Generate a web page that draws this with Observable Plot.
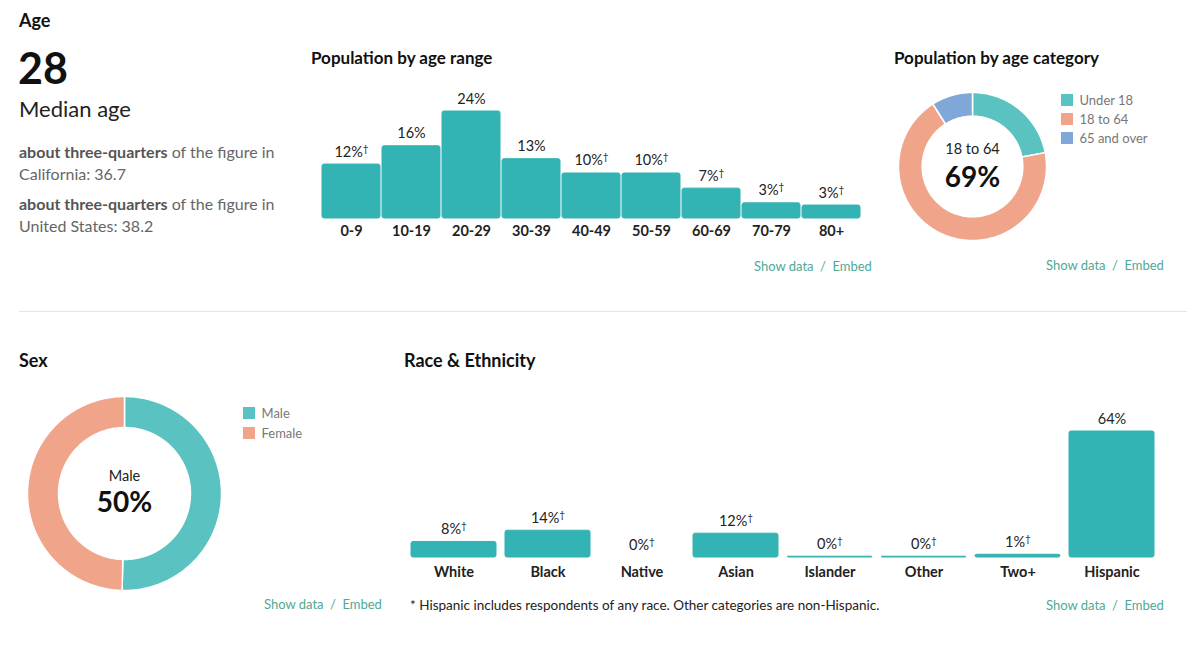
<!DOCTYPE html>
<html>
<head>
<meta charset="utf-8">
<script src="https://cdn.jsdelivr.net/npm/d3@7"></script>
<script src="https://cdn.jsdelivr.net/npm/@observablehq/plot@0.6"></script>
<style>
  html, body { margin: 0; padding: 0; background: #fff; }
  body { width: 1200px; height: 667px; position: relative; overflow: hidden; font-family: Lato, "Open Sans", sans-serif; color: #222; }
  .abs { position: absolute; white-space: nowrap; }
  .h2 { font-size: 18px; font-weight: 700; color: #111; line-height: 1.2; }
  .h3 { font-size: 17px; font-weight: 700; color: #111; line-height: 1.2; }
  .big { font-size: 43px; font-weight: 700; color: #111; line-height: 1.2; }
  .med { font-size: 22px; color: #222; line-height: 1.2; }
  .para { font-size: 16px; color: #666; line-height: 22px; }
  .para b { color: #555; font-weight: 700; }
  .link { font-size: 13px; color: #4ea995; line-height: 1.2; }
  .foot { font-size: 13.5px; color: #222; line-height: 1.2; }
  .divider { position: absolute; left: 19px; top: 311px; width: 1168px; height: 1px; background: #e6e6e0; }
  .lg { font-family: Lato, sans-serif !important; font-size: 13px !important; color: #777 !important; margin: 0 !important; }
  .lg-swatch { padding-bottom: 3px !important; }
  .lgs .lg-swatch { padding-bottom: 4px !important; }
</style>
</head>
<body>
<script>
// ---------- data ----------
const medianAge = 28;
const compareLines = [
  ["about three-quarters", " of the figure in", "California: 36.7"],
  ["about three-quarters", " of the figure in", "United States: 38.2"]
];
const ageRanges = ["0-9", "10-19", "20-29", "30-39", "40-49", "50-59", "60-69", "70-79", "80+"];
const ageValues = [12.1, 16.2, 24.0, 13.3, 10.1, 10.1, 6.7, 3.4, 2.9];
const ageFlags  = [true, false, false, false, true, true, true, true, true];

const ageCats   = ["Under 18", "18 to 64", "65 and over"];
const ageCatVals = [22, 69, 9];
const ageCatColors = ["#5ac3c2", "#f0a48a", "#7fa7d7"];

const sexCats = ["Male", "Female"];
const sexVals = [50.4, 49.6];
const sexColors = ["#5ac3c2", "#f0a48a"];

const raceCats = ["White", "Black", "Native", "Asian", "Islander", "Other", "Two+", "Hispanic"];
const raceValues = [7.9, 13.6, 0, 12.1, 0.4, 0.4, 1.4, 64];
const raceFlags = [true, true, true, true, true, true, true, false];

const barColor = "#33b3b3";
const linkText = "Show data\u2002/\u2002Embed";

// ---------- helpers ----------
const NS = "http://www.w3.org/2000/svg";
function place(el, left, top) {
  el.style.position = "absolute"; el.style.left = left + "px"; el.style.top = top + "px";
  document.body.appendChild(el); return el;
}
function div(cls, html, left, top) {
  const d = document.createElement("div");
  d.className = "abs " + cls; d.innerHTML = html;
  return place(d, left, top);
}
function daggerize(svg) {
  svg.querySelectorAll("text").forEach(t => {
    const s = t.textContent;
    if (s.endsWith("\u2020")) {
      t.textContent = s.slice(0, -1);
      const ts = document.createElementNS(NS, "tspan");
      ts.setAttribute("font-size", "10");
      ts.setAttribute("dy", "-5");
      ts.textContent = "\u2020";
      t.appendChild(ts);
    }
  });
}
const fmt = (v, f) => Math.round(v) + "%" + (f ? "\u2020" : "");

function donutPoints(cats, vals, inner) {
  const total = d3.sum(vals);
  const pts = [];
  let acc = 0;
  cats.forEach((c, i) => {
    const a0 = acc / total * 2 * Math.PI; acc += vals[i];
    const a1 = acc / total * 2 * Math.PI;
    const n = Math.max(2, Math.ceil((a1 - a0) / (Math.PI / 180)));
    const ring = [];
    for (let k = 0; k <= n; k++) { const a = a0 + (a1 - a0) * k / n; ring.push([Math.sin(a), Math.cos(a)]); }
    for (let k = n; k >= 0; k--) { const a = a0 + (a1 - a0) * k / n; ring.push([inner * Math.sin(a), inner * Math.cos(a)]); }
    ring.push(ring[0]);
    ring.forEach(([x, y]) => pts.push({cat: c, x, y}));
  });
  return pts;
}

function donut(cats, vals, colors, size, centerIdx, topDy, botDy) {
  const pts = donutPoints(cats, vals, 0.68);
  return Plot.plot({
    width: size, height: size,
    margin: 2,
    x: {domain: [-1, 1], axis: null},
    y: {domain: [-1, 1], axis: null},
    color: {domain: cats, range: colors},
    style: {fontFamily: "Lato, sans-serif", color: "#222", background: "transparent", overflow: "visible"},
    marks: [
      Plot.line(pts, {x: "x", y: "y", z: "cat", fill: "cat", stroke: "white", strokeWidth: 1.5, curve: "linear"}),
      Plot.text([cats[centerIdx]], {frameAnchor: "middle", dy: topDy, fontSize: 14.5, fill: "#222"}),
      Plot.text([Math.round(vals[centerIdx]) + "%"], {frameAnchor: "middle", dy: botDy, fontSize: 28, fontWeight: "bold", fill: "#111"})
    ]
  });
}

function legend(cats, colors) {
  return Plot.legend({
    color: {type: "ordinal", domain: cats, range: colors},
    legend: "swatches", columns: 1, swatchSize: 12, className: "lg",
    style: {fontFamily: "Lato, sans-serif", fontSize: "13px", color: "#777"}
  });
}

// ---------- text blocks ----------
div("h2", "Age", 19, 10);
div("big", String(medianAge), 18, 42);
div("med", "Median age", 19, 96);
compareLines.forEach((l, i) => {
  div("para", `<b>${l[0]}</b><span>${l[1]}</span><br><span>${l[2]}</span>`, 19, 141 + i * 52);
});
div("h3", "Population by age range", 311, 48);
div("h3", "Population by age category", 894, 48);
div("link", linkText, 754, 259);
div("link", linkText, 1046, 258);
const dv = document.createElement("div"); dv.className = "divider"; document.body.appendChild(dv);
div("h2", "Sex", 19, 350);
div("h2", "Race &amp; Ethnicity", 404, 350);
div("link", linkText, 264, 597);
div("foot", "* Hispanic includes respondents of any race. Other categories are non-Hispanic.", 410, 597);
div("link", linkText, 1046, 598);

// ---------- age range bars ----------
const ageData = ageRanges.map((r, i) => ({r, v: ageValues[i], label: fmt(ageValues[i], ageFlags[i])}));
const ageSvg = Plot.plot({
  width: 575, height: 165,
  marginLeft: 18, marginRight: 12, marginTop: 31, marginBottom: 27,
  x: {domain: ageRanges, paddingInner: 0.04, paddingOuter: 0, label: null},
  y: {domain: [0, 24], axis: null},
  style: {fontFamily: "Lato, sans-serif", fontSize: "14px", color: "#222", background: "transparent", overflow: "visible"},
  marks: [
    Plot.barY(ageData, {x: "r", y: "v", fill: barColor, stroke: barColor, strokeWidth: 1, rx: 2}),
    Plot.text(ageData, {x: "r", y: "v", text: "label", lineAnchor: "bottom", dy: -8, fontSize: 14.5, fill: "#222"}),
    Plot.axisX({tickSize: 0, tickPadding: 7, fontSize: 14.5, fontWeight: "bold", label: null})
  ]
});
daggerize(ageSvg);
place(ageSvg, 300, 80);

// ---------- age category donut ----------
place(donut(ageCats, ageCatVals, ageCatColors, 152, 1, -17, 12), 896, 90);
place(legend(ageCats, ageCatColors), 1061, 92);

// ---------- sex donut ----------
place(donut(sexCats, sexVals, sexColors, 198, 0, -17, 10), 25, 394);
const lg2 = place(legend(sexCats, sexColors), 243, 405);
lg2.classList.add("lgs");

// ---------- race bars ----------
const raceData = raceCats.map((c, i) => ({c, v: raceValues[i], label: fmt(raceValues[i], raceFlags[i])}));
const raceSvg = Plot.plot({
  width: 770, height: 185,
  marginLeft: 10, marginRight: 15, marginTop: 31, marginBottom: 28,
  x: {domain: raceCats, paddingInner: 0.1, paddingOuter: 0, label: null},
  y: {domain: [0, 64], axis: null},
  style: {fontFamily: "Lato, sans-serif", fontSize: "14px", color: "#222", background: "transparent", overflow: "visible"},
  marks: [
    Plot.barY(raceData, {x: "c", y: "v", fill: barColor, stroke: barColor, strokeWidth: 1, rx: 2}),
    Plot.text(raceData, {x: "c", y: "v", text: "label", lineAnchor: "bottom", dy: -8, fontSize: 14.5, fill: "#222"}),
    Plot.axisX({tickSize: 0, tickPadding: 9, fontSize: 14.5, fontWeight: "bold", label: null})
  ]
});
daggerize(raceSvg);
place(raceSvg, 400, 400);
</script>
</body>
</html>
